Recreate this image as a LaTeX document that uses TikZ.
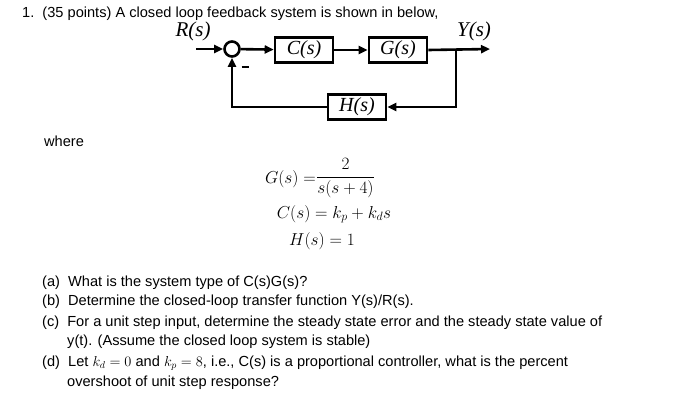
\documentclass[tikz,border=0pt]{standalone}
\usepackage{fontspec}
\setmainfont{Liberation Sans}
\newfontfamily\tms{Liberation Serif}
\usetikzlibrary{arrows.meta}
\begin{document}
\begin{tikzpicture}[x=1pt,y=-1pt,
  txt/.style={anchor=base west,inner sep=0,font=\fontsize{14.6}{17}\selectfont},
  blk/.style={draw,line width=2.6pt,minimum width=58pt,minimum height=25pt,inner sep=0,font=\fontsize{20}{22}\selectfont\tms\itshape},
  sig/.style={line width=2.6pt,-{Triangle[length=9pt,width=8pt]}},
  lbl/.style={inner sep=0,font=\fontsize{21}{23}\selectfont\tms\itshape},
  eq/.style={inner sep=0,font=\fontsize{18}{20}\selectfont}]
\useasboundingbox (0,0) rectangle (696,405);
\node[txt] (t1) at (22,17) {1.\ \ (35 points) A closed loop feedback system is shown in below,};
\node[circle,draw,line width=2.6pt,minimum size=15pt,inner sep=0] (sum) at (232,49) {};
\coordinate (rin) at (196,49);
\node[blk] (C) at (304,50) {C(s)};
\node[blk] (G) at (398,50) {G(s)};
\node[blk] (H) at (357,107) {H(s)};
\coordinate (br) at (456,49);
\coordinate (out) at (490,49);
\coordinate (br2) at (456,107);
\coordinate (bl) at (232,107);
\node[lbl] (R) at (193,31) {R(s)};
\node[lbl] (Y) at (474,31) {Y(s)};
\draw[sig] (rin) -- (sum);
\draw[sig] (sum) -- (C);
\draw[sig] (C) -- (G);
\draw[sig] (G.east) -- (out);
\draw[sig] (br) -- (br2) -- (H.east);
\draw[sig] (H.west) -- (bl) -- (sum);
\node[inner sep=0] (m) at (245,67) {\rule{7pt}{2.4pt}};
\node[txt] (w) at (44,146) {where};
\node[eq,anchor=east] (g) at (316,179) {$G(s)=$};
\node[eq,anchor=west] (gf) at (316,178) {$\displaystyle\frac{2}{s(s+4)}$};
\node[eq] (c) at (334,214) {$C(s)=k_p+k_ds$};
\node[eq] (h) at (322,241) {$H(s)=1$};
\node[txt] (a) at (42,286) {(a)\ \ What is the system type of C(s)G(s)?};
\node[txt] (b) at (42,305) {(b)\ \ Determine the closed-loop transfer function Y(s)/R(s).};
\node[txt] (c1) at (42,326) {(c)\ \ For a unit step input, determine the steady state error and the steady state value of};
\node[txt] (c2) at (67,345) {y(t). (Assume the closed loop system is stable)};
\node[txt] (d1) at (42,366) {(d)\ \ Let $k_d=0$ and $k_p=8$, i.e., C(s) is a proportional controller, what is the percent};
\node[txt] (d2) at (67,386) {overshoot of unit step response?};
\end{tikzpicture}
\end{document}
